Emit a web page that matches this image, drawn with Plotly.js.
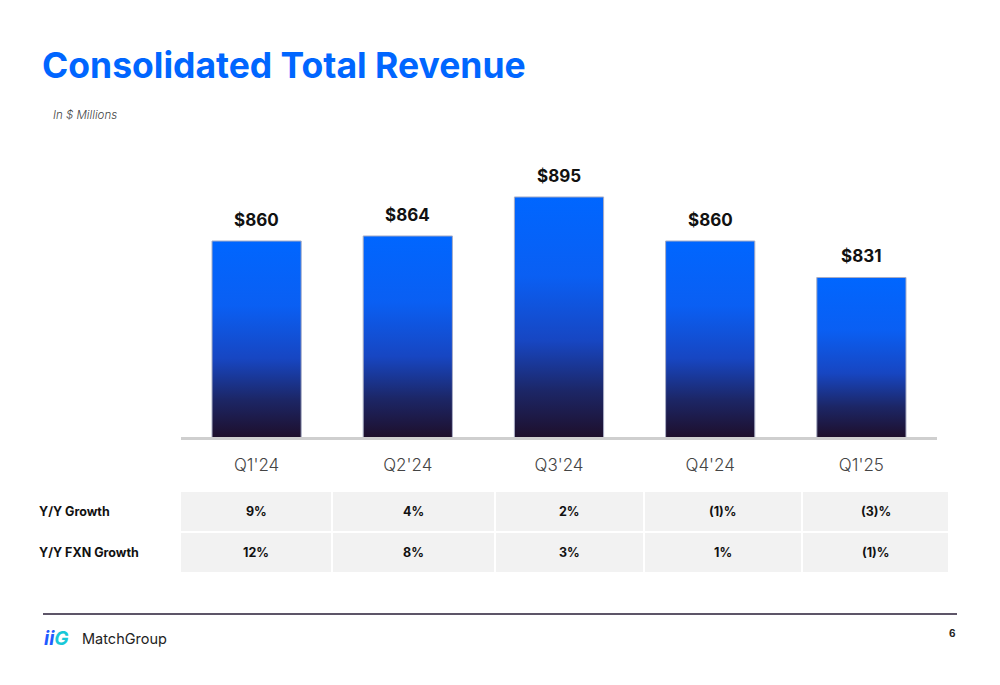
<!DOCTYPE html>
<html>
<head>
<meta charset="utf-8">
<script src="https://cdn.plot.ly/plotly-3.0.1.min.js"></script>
<style>
  html, body { margin: 0; padding: 0; background: #ffffff; }
  #chart { width: 1000px; height: 685px; }
</style>
</head>
<body>
<div id="chart"></div>
<script>
// ---- Data ----
const quarters = ["Q1'24", "Q2'24", "Q3'24", "Q4'24", "Q1'25"];
const revenue = [860, 864, 895, 860, 831];
const rowLabels = ["Y/Y Growth", "Y/Y FXN Growth"];
const yyGrowth = ["9%", "4%", "2%", "(1)%", "(3)%"];
const fxnGrowth = ["12%", "8%", "3%", "1%", "(1)%"];

// ---- Layout helpers (pixel -> paper) ----
const W = 1000, H = 685;
const px = x => x / W;
const py = y => 1 - y / H;
const FONT = "Inter, 'Noto Sans', sans-serif";

// table geometry (pixels)
const colEdges = [[181, 331], [333, 494], [496, 643], [645, 801], [803, 948]];
const rowEdges = [[492, 531], [533, 572]];
const tableRows = [yyGrowth, fxnGrowth];

const barTrace = {
  type: 'bar',
  x: quarters,
  y: revenue,
  marker: { color: '#0a5ef0', line: { color: '#a9adc4', width: 1 } },
  hoverinfo: 'skip',
  showlegend: false
};

const labelAnnotations = quarters.map((q, i) => ({
  x: q, y: revenue[i], xref: 'x', yref: 'y',
  text: '$' + revenue[i],
  showarrow: false, yanchor: 'bottom', yshift: 9,
  font: { family: FONT, size: 17, color: '#111111', weight: 700 }
}));

const tableShapes = [];
const tableAnnotations = [];
rowEdges.forEach(([y0, y1], r) => {
  tableAnnotations.push({
    xref: 'paper', yref: 'paper', x: px(37), y: py((y0 + y1) / 2),
    xanchor: 'left', yanchor: 'middle', showarrow: false,
    text: '<b>' + rowLabels[r] + '</b>',
    font: { family: FONT, size: 12.5, color: '#111111' }
  });
  colEdges.forEach(([x0, x1], c) => {
    tableShapes.push({
      type: 'rect', xref: 'paper', yref: 'paper', layer: 'below',
      x0: px(x0), x1: px(x1), y0: py(y1), y1: py(y0),
      fillcolor: '#f2f2f2', line: { width: 0 }
    });
    tableAnnotations.push({
      xref: 'paper', yref: 'paper', x: px((x0 + x1) / 2), y: py((y0 + y1) / 2),
      xanchor: 'center', yanchor: 'middle', showarrow: false,
      text: '<b>' + tableRows[r][c] + '</b>',
      font: { family: FONT, size: 12.5, color: '#111111' }
    });
  });
});

const layout = {
  width: W, height: H,
  margin: { l: 0, r: 0, t: 0, b: 0 },
  paper_bgcolor: '#ffffff',
  plot_bgcolor: 'rgba(0,0,0,0)',
  title: {
    text: 'Consolidated Total Revenue',
    x: px(42), xanchor: 'left', xref: 'paper',
    y: py(66), yanchor: 'middle', yref: 'paper',
    font: { family: FONT, size: 35.5, color: '#0066ff', weight: 700 }
  },
  bargap: 0.41,
  xaxis: {
    domain: [px(181), px(937)],
    showline: true, linecolor: '#cfcfcf', linewidth: 3,
    showgrid: false, zeroline: false,
    ticks: '', ticklabelstandoff: 11,
    tickfont: { family: FONT, size: 17, color: '#444444', weight: 300 },
    fixedrange: true
  },
  yaxis: {
    domain: [py(437), py(150)],
    range: [704.2, 704.2 + 287 / 1.258],
    showgrid: false, zeroline: false, showline: false,
    showticklabels: false, ticks: '',
    fixedrange: true
  },
  shapes: tableShapes.concat([
    { type: 'line', xref: 'paper', yref: 'paper',
      x0: px(43), x1: px(957), y0: py(614), y1: py(614),
      line: { color: '#5d5568', width: 2 } }
  ]),
  annotations: labelAnnotations.concat(tableAnnotations, [
    { xref: 'paper', yref: 'paper', x: px(51), y: py(115), xanchor: 'left', yanchor: 'middle',
      text: '<i>In $ Millions</i>', showarrow: false,
      font: { family: FONT, size: 11.5, color: '#444444', weight: 300 } },
    { xref: 'paper', yref: 'paper', x: px(42), y: py(638), xanchor: 'left', yanchor: 'middle',
      text: '<b><i><span style="color:#1f5bff">ii</span><span style="color:#18c8d8">G</span></i></b>', showarrow: false,
      font: { family: FONT, size: 19, color: '#1f5bff' } },
    { xref: 'paper', yref: 'paper', x: px(80), y: py(638), xanchor: 'left', yanchor: 'middle',
      text: 'MatchGroup', showarrow: false,
      font: { family: FONT, size: 14.5, color: '#222222' } },
    { xref: 'paper', yref: 'paper', x: px(952), y: py(633), xanchor: 'center', yanchor: 'middle',
      text: '<b>6</b>', showarrow: false,
      font: { family: FONT, size: 10, color: '#222222' } }
  ])
};

const gd = document.getElementById('chart');
const NS = 'http://www.w3.org/2000/svg';
const gradStops = [['0%', '#0066ff'], ['33%', '#0a5ff3'], ['60%', '#1746c2'], ['81%', '#1c2666'], ['100%', '#1e0f2c']];
function applyGradient() {
  const svg = gd.querySelector('svg.main-svg');
  if (!svg) return;
  let defs = svg.querySelector('defs');
  if (!defs) { defs = document.createElementNS(NS, 'defs'); svg.insertBefore(defs, svg.firstChild); }
  const plotBottom = gd._fullLayout.yaxis._length;
  gd.querySelectorAll('.barlayer .point path').forEach((p, i) => {
    const id = 'barGrad' + i;
    const old = svg.querySelector('#' + id);
    if (old) old.remove();
    const bb = p.getBBox();
    const grad = document.createElementNS(NS, 'linearGradient');
    grad.setAttribute('id', id);
    grad.setAttribute('gradientUnits', 'userSpaceOnUse');
    grad.setAttribute('x1', '0'); grad.setAttribute('x2', '0');
    grad.setAttribute('y1', String(bb.y)); grad.setAttribute('y2', String(plotBottom));
    gradStops.forEach(([o, c]) => {
      const s = document.createElementNS(NS, 'stop');
      s.setAttribute('offset', o); s.setAttribute('stop-color', c);
      grad.appendChild(s);
    });
    defs.appendChild(grad);
    p.style.fill = 'url(#' + id + ')';
  });
}
Plotly.newPlot(gd, [barTrace], layout, { displayModeBar: false, staticPlot: true }).then(applyGradient);
</script>
</body>
</html>
